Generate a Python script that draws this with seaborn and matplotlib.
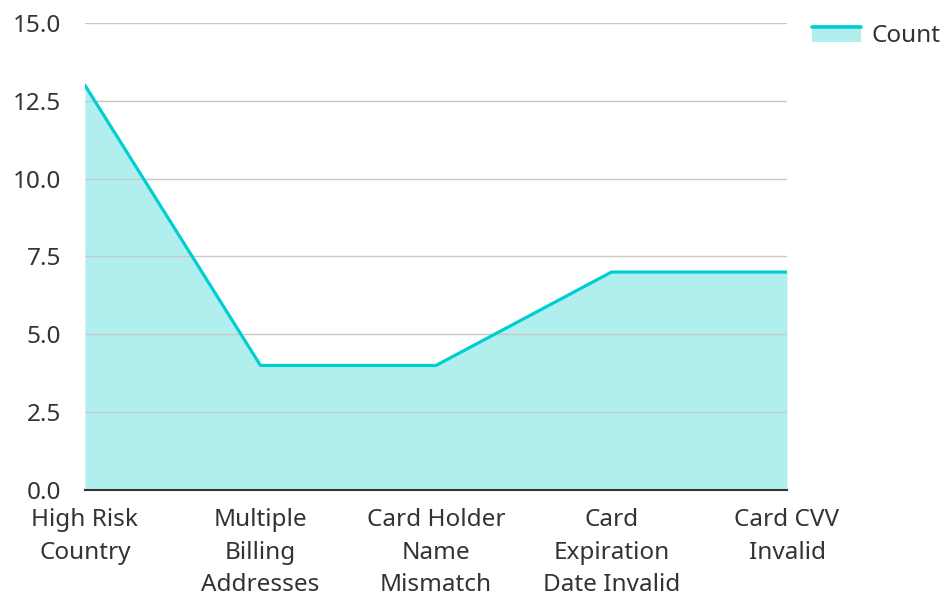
import matplotlib
matplotlib.use("Agg")
import matplotlib.pyplot as plt
import seaborn as sns
import pandas as pd
from matplotlib.lines import Line2D
from matplotlib.patches import Rectangle
from matplotlib.legend_handler import HandlerBase

categories = ["High Risk\nCountry", "Multiple\nBilling\nAddresses", "Card Holder\nName\nMismatch",
              "Card\nExpiration\nDate Invalid", "Card CVV\nInvalid"]
counts = [13, 4, 4, 7, 7]
y_ticks = [0.0, 2.5, 5.0, 7.5, 10.0, 12.5, 15.0]

sns.set_theme(style="white")
plt.rcParams['font.family'] = ['Noto Sans', 'DejaVu Sans']

line_color = "#00CED1"
fill_color = "#B1EFEE"

df = pd.DataFrame({"idx": range(len(categories)), "Count": counts})

fig = plt.figure(figsize=(9.44, 5.94), dpi=100)
ax = fig.add_axes([0.090, 0.1751, 0.7437, 0.7862])

ax.fill_between(df["idx"], 0, df["Count"], color=fill_color, linewidth=0, zorder=1)
sns.lineplot(data=df, x="idx", y="Count", ax=ax, color=line_color, linewidth=2.3, zorder=3)

ax.set_xlim(0, len(categories) - 1)
ax.set_ylim(0, 15)
ax.set_yticks(y_ticks)
ax.set_yticklabels([f"{v:.1f}" for v in y_ticks])
ax.set_xticks(range(len(categories)))
ax.set_xticklabels(categories, ha="center", linespacing=1.48)
ax.tick_params(axis="both", length=0, labelsize=17.5, colors="#333333")
ax.tick_params(axis="y", pad=17)
ax.tick_params(axis="x", pad=13)
ax.set_xlabel("")
ax.set_ylabel("")

for v in y_ticks[1:]:
    ax.axhline(v, color="#C8C8C8", linewidth=1.0, zorder=2)

for s in ["top", "right", "left"]:
    ax.spines[s].set_visible(False)
ax.spines["bottom"].set_color("#333333")
ax.spines["bottom"].set_linewidth(1.5)
ax.spines["bottom"].set_zorder(4)


class AreaHandler(HandlerBase):
    def create_artists(self, legend, orig_handle, xdescent, ydescent, width, height, fontsize, trans):
        rect = Rectangle((-xdescent, -ydescent), width, height, facecolor=fill_color,
                         edgecolor="none", transform=trans)
        line = Line2D([-xdescent, -xdescent + width], [height - ydescent - 1.2, height - ydescent - 1.2],
                      color=line_color, linewidth=2.6, transform=trans)
        return [rect, line]


handle = Line2D([], [], color=line_color)
leg = fig.legend([handle], ["Count"], loc="upper left", bbox_to_anchor=(0.837, 0.996),
                 frameon=False, fontsize=17.5, handlelength=2.0, handleheight=0.7,
                 handletextpad=0.45, handler_map={Line2D: AreaHandler()})
for t in leg.get_texts():
    t.set_color("#333333")

fig.savefig("out.png", dpi=100)
